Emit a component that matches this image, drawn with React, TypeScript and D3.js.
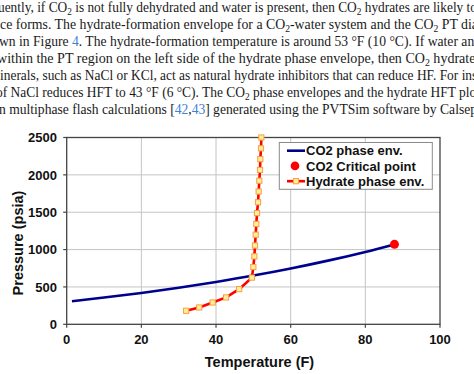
import React from "react";
import * as d3 from "d3";

// ---- Data ----
const co2Temp = [1.4, 10, 20, 30, 40, 50, 60, 70, 80, 87.8];
const co2Press = [308, 358, 420, 490, 567, 652, 747, 852, 969, 1070];

const criticalTemp = [87.8];
const criticalPress = [1070];

const hydrateTemp = [32.0, 35.5, 39.1, 42.7, 46.2, 49.6, 50.0, 50.27, 50.44, 50.62, 50.8, 50.98, 51.25, 51.42, 51.6, 51.78, 51.87, 52.05, 52.14];
const hydratePress = [181, 225, 292, 360, 471, 625, 767, 909, 1054, 1199, 1343, 1488, 1633, 1777, 1922, 2066, 2211, 2355, 2500];

const xTicks = [0, 20, 40, 60, 80, 100];
const yTicks = [0, 500, 1000, 1500, 2000, 2500];

const legendLabels = ["CO2 phase env.", "CO2 Critical point", "Hydrate phase env."];

type Seg = { t: string; sub?: boolean; link?: boolean };
const paragraph: { segs: Seg[]; x0: number; x1: number }[] = [
  { x0: -2, x1: 477, segs: [{ t: "uently, if CO" }, { t: "2", sub: true }, { t: " is not fully dehydrated and water is present, then CO" }, { t: "2", sub: true }, { t: " hydrates are likely to" }] },
  { x0: 0, x1: 478, segs: [{ t: "ce forms. The hydrate-formation envelope for a CO" }, { t: "2", sub: true }, { t: "-water system and the CO" }, { t: "2", sub: true }, { t: " PT dia" }] },
  { x0: -1, x1: 481, segs: [{ t: "wn in Figure " }, { t: "4", link: true }, { t: ". The hydrate-formation temperature is around 53 °F (10 °C). If water and" }] },
  { x0: -3, x1: 481, segs: [{ t: "within the PT region on the left side of the hydrate phase envelope, then CO" }, { t: "2", sub: true }, { t: " hydrates" }] },
  { x0: 0, x1: 481, segs: [{ t: "inerals, such as NaCl or KCl, act as natural hydrate inhibitors that can reduce HF. For inst" }] },
  { x0: -4, x1: 480, segs: [{ t: "of NaCl reduces HFT to 43 °F (6 °C). The CO" }, { t: "2", sub: true }, { t: " phase envelopes and the hydrate HFT plot" }] },
  { x0: -1, x1: 477, segs: [{ t: "n multiphase flash calculations [" }, { t: "42", link: true }, { t: "," }, { t: "43", link: true }, { t: "] generated using the PVTSim software by Calsep" }] },
];

export default function App() {
  const W = 474, H = 374;
  const left = 66.7, right = 440, top = 137.5, bottom = 324.3;
  const x = d3.scaleLinear().domain([0, 100]).range([left, right]);
  const y = d3.scaleLinear().domain([0, 2500]).range([bottom, top]);

  const co2Line = d3.line<number>().x((_, i) => x(co2Temp[i])).y((_, i) => y(co2Press[i])).curve(d3.curveMonotoneX);
  const hydLine = d3.line<number>().x((_, i) => x(hydrateTemp[i])).y((_, i) => y(hydratePress[i]));

  const sans = "'Liberation Sans', Arial, sans-serif";
  const blue = "#00008f";
  const red = "#ff0000";
  const mFill = "#ffee99";
  const mStroke = "#f5a040";

  const lx = 279.3, ly = 142.5, lw = 153, lh = 46.8;
  const rows = [150.7, 165.9, 181.2];

  return (
    <svg width={W} height={H} style={{ position: "absolute", left: 0, top: 0, background: "#fff" }}>
      <rect x={0} y={0} width={W} height={H} fill="#fff" />
      {/* paragraph */}
      {paragraph.map((line, i) => (
        <text key={i} x={line.x0} y={11.5 + i * 17.1} fontFamily="'Liberation Serif', serif" fontSize={15} fill="#1a1a1a"
          textLength={line.x1 - line.x0} lengthAdjust="spacingAndGlyphs">
          {line.segs.map((s, j) => (
            <tspan key={j} fill={s.link ? "#3d7fd9" : undefined} fontSize={s.sub ? 10.5 : undefined}
              dy={s.sub ? 3 : (j > 0 && line.segs[j - 1].sub ? -3 : undefined)}>{s.t}</tspan>
          ))}
        </text>
      ))}

      {/* grid */}
      {xTicks.slice(1, -1).map((t) => (
        <line key={"gx" + t} x1={x(t)} x2={x(t)} y1={top} y2={bottom} stroke="#c4c4c4" strokeWidth={1} />
      ))}
      {yTicks.slice(1, -1).map((t) => (
        <line key={"gy" + t} x1={left} x2={right} y1={y(t)} y2={y(t)} stroke="#c4c4c4" strokeWidth={1} />
      ))}
      {/* frame */}
      <rect x={left} y={top} width={right - left} height={bottom - top} fill="none" stroke="#444" strokeWidth={1.3} />
      {/* ticks */}
      {yTicks.map((t) => (
        <line key={"ty" + t} x1={left - 3.5} x2={left} y1={y(t)} y2={y(t)} stroke="#444" strokeWidth={1.2} />
      ))}
      {xTicks.map((t) => (
        <line key={"tx" + t} x1={x(t)} x2={x(t)} y1={bottom} y2={bottom + 3.5} stroke="#444" strokeWidth={1.2} />
      ))}
      {/* tick labels */}
      {yTicks.map((t) => (
        <text key={"ly" + t} x={57} y={y(t)} dy="0.36em" textAnchor="end" fontFamily={sans} fontWeight="bold" fontSize={13} fill="#111">{t}</text>
      ))}
      {xTicks.map((t) => (
        <text key={"lx" + t} x={x(t)} y={344} textAnchor="middle" fontFamily={sans} fontWeight="bold" fontSize={13} fill="#111">{t}</text>
      ))}
      {/* axis titles */}
      <text x={259.5} y={367} textAnchor="middle" fontFamily={sans} fontWeight="bold" fontSize={14.5} fill="#111">Temperature (F)</text>
      <text transform="translate(23,243) rotate(-90)" textAnchor="middle" fontFamily={sans} fontWeight="bold" fontSize={14.5} fill="#111">Pressure (psia)</text>

      {/* series */}
      <path d={co2Line(co2Temp) || ""} fill="none" stroke={blue} strokeWidth={2.6} />
      <path d={hydLine(hydrateTemp) || ""} fill="none" stroke={red} strokeWidth={2.6} />
      {hydrateTemp.map((t, i) => (
        <rect key={"m" + i} x={x(t) - 2.6} y={y(hydratePress[i]) - 2.6} width={5.2} height={5.2} fill={mFill} stroke={mStroke} strokeWidth={1} />
      ))}
      {criticalTemp.map((t, i) => (
        <circle key={"c" + i} cx={x(t)} cy={y(criticalPress[i])} r={4.5} fill={red} />
      ))}

      {/* legend */}
      <rect x={lx} y={ly} width={lw} height={lh} fill="#fff" stroke="#8a8a8a" strokeWidth={1} />
      <line x1={287} x2={305} y1={rows[0]} y2={rows[0]} stroke={blue} strokeWidth={2.6} />
      <circle cx={295} cy={rows[1]} r={4.3} fill={red} />
      <line x1={287} x2={305} y1={rows[2]} y2={rows[2]} stroke={red} strokeWidth={2.6} />
      <rect x={296 - 2.6} y={rows[2] - 2.6} width={5.2} height={5.2} fill={mFill} stroke={mStroke} strokeWidth={1} />
      {legendLabels.map((l, i) => (
        <text key={l} x={306} y={rows[i]} dy="0.36em" fontFamily={sans} fontWeight="bold" fontSize={13} fill="#111">{l}</text>
      ))}
    </svg>
  );
}
